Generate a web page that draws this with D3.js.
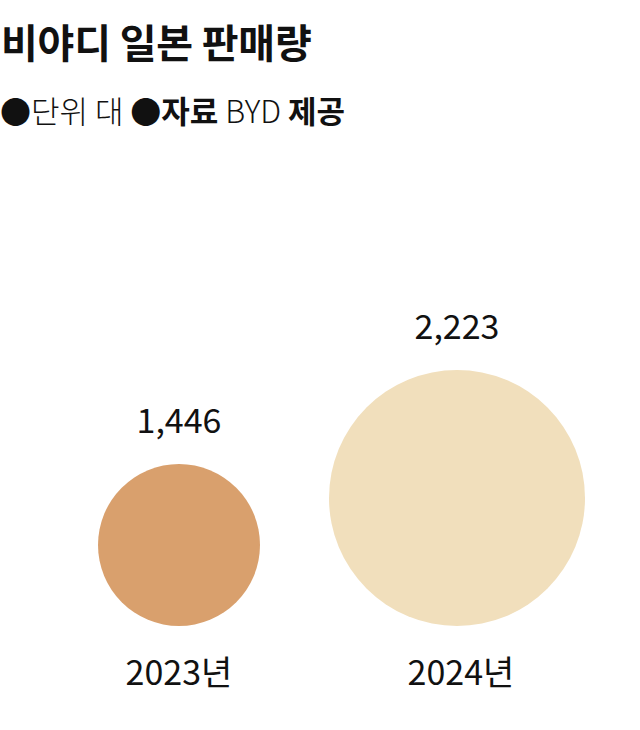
<!DOCTYPE html>
<html>
<head>
<meta charset="utf-8">
<script src="https://cdn.jsdelivr.net/npm/d3@7"></script>
<style>
  body { margin: 0; background: #fff; }
  svg text { font-family: "Noto Sans CJK KR", "Noto Sans", sans-serif; fill: #111; }
</style>
</head>
<body>
<div id="chart"></div>
<script>
// data
var years = ["2023년", "2024년"];
var sales = [1446, 2223];
var colors = ["#D9A06D", "#F1DFBC"];

var width = 640, height = 730;
var baseY = 626;      // bottom line the circles sit on

var svg = d3.select("#chart").append("svg")
    .attr("width", width)
    .attr("height", height);

// title + source line
svg.append("text")
    .attr("x", 1).attr("y", 58)
    .style("font-size", "40px")
    .style("font-weight", 700)
    .style("letter-spacing", "-0.2px")
    .text("비야디 일본 판매량");

var sub = svg.append("text")
    .attr("x", 0).attr("y", 123)
    .style("font-size", "31px");
sub.append("tspan").style("font-weight", 300).text("●단위 대 ");
sub.append("tspan").style("font-weight", 700).text("●자료");
sub.append("tspan").style("font-weight", 300).text(" BYD ");
sub.append("tspan").style("font-weight", 700).text("제공");

var x = d3.scalePoint().domain(years).range([179, 457]);
var r = d3.scaleLinear().domain(d3.extent(sales)).range([81, 128]);

var g = svg.selectAll("g.bubble")
    .data(years.map(function (y, i) { return {year: y, value: sales[i], color: colors[i]}; }))
    .enter().append("g")
    .attr("class", "bubble");

g.append("circle")
    .attr("cx", function (d) { return x(d.year); })
    .attr("cy", function (d) { return baseY - r(d.value); })
    .attr("r", function (d) { return r(d.value); })
    .style("fill", function (d) { return d.color; });

g.append("text")
    .attr("x", function (d) { return x(d.year); })
    .attr("y", function (d) { return baseY - 2 * r(d.value) - 31; })
    .attr("text-anchor", "middle")
    .style("font-size", "34px")
    .text(function (d) { return d3.format(",")(d.value); });

g.append("text")
    .attr("x", function (d, i) { return x(d.year) + i * 4; })
    .attr("y", 685)
    .attr("text-anchor", "middle")
    .style("font-size", "34px")
    .text(function (d) { return d.year; });
</script>
</body>
</html>
